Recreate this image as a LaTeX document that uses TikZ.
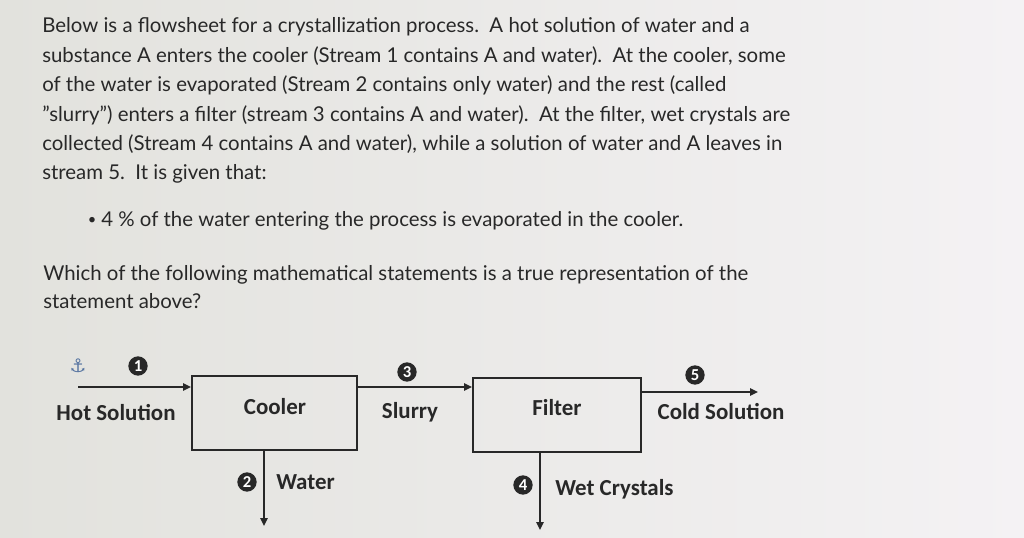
\documentclass[tikz,border=0pt]{standalone}
\usepackage{fontspec}
\defaultfontfeatures{}
\setmainfont{Lato}
\newfontfamily\diagfont{Carlito}
\newfontfamily\symfont{DejaVu Sans}
\usetikzlibrary{arrows.meta}
\definecolor{screenl}{RGB}{226,226,221}
\definecolor{screenr}{RGB}{244,242,244}
\definecolor{ink}{RGB}{40,40,40}
\definecolor{anchorblue}{RGB}{85,115,160}
\tikzset{
  para/.style={anchor=base west, inner sep=0pt, text=ink, font=\fontsize{15.3}{18}\selectfont},
  unit/.style={draw=ink, line width=1.5pt, minimum height=55.5pt, inner sep=0pt},
  lbl/.style={text=ink, inner sep=0pt, font=\diagfont\bfseries\fontsize{17.2}{20}\selectfont},
  num/.style={circle, fill=ink, text=white, inner sep=0pt, minimum size=14.5pt, font=\diagfont\bfseries\fontsize{12.5}{14}\selectfont},
  flow/.style={draw=ink, line width=1.5pt, -{Triangle[length=6pt,width=5.5pt]}}
}

\begin{document}
\begin{tikzpicture}[x=0.75pt,y=-0.75pt]
  % screen
  \shade[left color=screenl, right color=screenr] (0,0) rectangle (1024,538);
  \useasboundingbox (0,0) rectangle (1024,538);

  % question text
  \node[para] (l1) at (42,33) {Below is a flowsheet for a crystallization process.\ \ A hot solution of water and a};
  \node[para] (l2) at (42,62.5) {substance A enters the cooler (Stream 1 contains A and water).\ \ At the cooler, some};
  \node[para] (l3) at (42,92) {of the water is evaporated (Stream 2 contains only water) and the rest (called};
  \node[para] (l4) at (42,121.5) {"slurry") enters a filter (stream 3 contains A and water).\ \ At the filter, wet crystals are};
  \node[para] (l5) at (42,151) {collected (Stream 4 contains A and water), while a solution of water and A leaves in};
  \node[para] (l6) at (42,180) {stream 5.\ \ It is given that:};
  \node[para, font=\fontsize{11}{12}\selectfont] (dot) at (87.5,225) {\textbullet};
  \node[para] (given) at (101,227) {4 \% of the water entering the process is evaporated in the cooler.};
  \node[para] (q1) at (43,281) {Which of the following mathematical statements is a true representation of the};
  \node[para] (q2) at (43,308) {statement above?};

  % units
  \node[unit, minimum width=123.75pt] (cooler) at (274.5,413) {};
  \node[unit, minimum width=126pt] (filter) at (557,415) {};
  \node[lbl] (coolerlbl) at (275,407) {Cooler};
  \node[lbl] (filterlbl) at (557,408) {Filter};

  % streams
  \coordinate (in1) at (78,387);
  \coordinate (out5) at (758,392);
  \coordinate (out2) at (264,526);
  \coordinate (out4) at (540,530);
  \draw[flow] (in1) -- (in1 -| cooler.west);
  \draw[flow] (in1 -| cooler.east) -- (in1 -| filter.west);
  \draw[flow] (out5 -| filter.east) -- (out5);
  \draw[flow] (out2 |- cooler.south) -- (out2);
  \draw[flow] (out4 |- filter.south) -- (out4);

  % stream labels
  \node[text=anchorblue, font=\symfont\fontsize{14}{16}\selectfont] (anchor) at (78,366) {⚓};
  \node[num] (n1) at (138,366) {1};
  \node[num] (n2) at (247,482) {2};
  \node[num] (n3) at (407,372) {3};
  \node[num] (n4) at (523,485) {4};
  \node[num] (n5) at (695,375) {5};
  \node[lbl] (hot) at (116,413) {Hot Solution};
  \node[lbl] (slurry) at (410,412) {Slurry};
  \node[lbl] (cold) at (721,412) {Cold Solution};
  \node[lbl, anchor=west] (water) at (276,482) {Water};
  \node[lbl, anchor=west] (wet) at (555,489) {Wet Crystals};
\end{tikzpicture}
\end{document}
